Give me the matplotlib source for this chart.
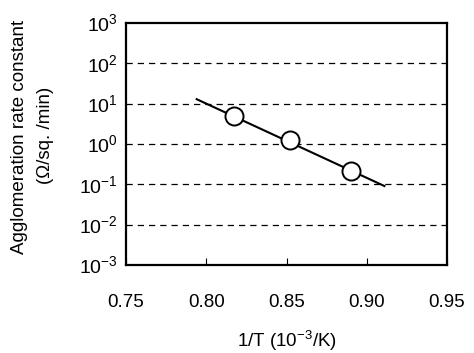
import matplotlib
matplotlib.use("Agg")
import matplotlib.pyplot as plt
from matplotlib.ticker import FixedLocator

plt.rcParams['font.family'] = ['Liberation Sans', 'DejaVu Sans']
plt.rcParams['mathtext.fontset'] = 'custom'
plt.rcParams['mathtext.rm'] = 'Liberation Sans'

# data
inv_T = [0.817, 0.852, 0.890]
rate_k = [4.9, 1.25, 0.22]
fit_x = [0.794, 0.911]
fit_y = [12.9, 0.091]
x_ticks = [0.75, 0.80, 0.85, 0.90, 0.95]
x_tick_labels = ["0.75", "0.80", "0.85", "0.90", "0.95"]
y_ticks = [1e-3, 1e-2, 1e-1, 1e0, 1e1, 1e2, 1e3]
y_tick_labels = [r"10$^{-3}$", r"10$^{-2}$", r"10$^{-1}$", r"10$^{0}$",
                 r"10$^{1}$", r"10$^{2}$", r"10$^{3}$"]

W, H = 474, 353
fig = plt.figure(figsize=(W / 100, H / 100), dpi=100)
ax = fig.add_axes([0.266, 0.249, 0.677, 0.686])

ax.set_yscale('log')
ax.set_xlim(0.75, 0.95)
ax.set_ylim(1e-3, 1e3)

for yv in y_ticks[1:-1]:
    ax.axhline(yv, color='black', lw=0.9, ls=(0, (5, 4)), zorder=1)

ax.plot(fit_x, fit_y, color='black', lw=1.5, zorder=2)
ax.plot(inv_T, rate_k, 'o', ms=13, mfc='white', mec='black', mew=1.4, zorder=3)

ax.xaxis.set_major_locator(FixedLocator(x_ticks))
ax.set_xticklabels(x_tick_labels)
ax.yaxis.set_major_locator(FixedLocator(y_ticks))
ax.set_yticklabels(y_tick_labels)
ax.yaxis.set_minor_locator(FixedLocator([]))
ax.tick_params(axis='x', direction='in', length=5, width=0.8, labelsize=13.5, pad=21)
ax.tick_params(axis='y', direction='in', length=0, labelsize=14, pad=6)

for s in ax.spines.values():
    s.set_linewidth(1.6)

ax.set_xlabel(r"1/T (10$^{-3}$/K)", fontsize=13.5, labelpad=12)
fig.text(20 / W, 1 - 137 / H, "Agglomeration rate constant", rotation=90,
         ha='center', va='center', fontsize=13.5)
fig.text(45 / W, 1 - 135 / H, "(Ω/sq. /min)", rotation=90,
         ha='center', va='center', fontsize=13.5)

fig.savefig("out.png", dpi=100)
